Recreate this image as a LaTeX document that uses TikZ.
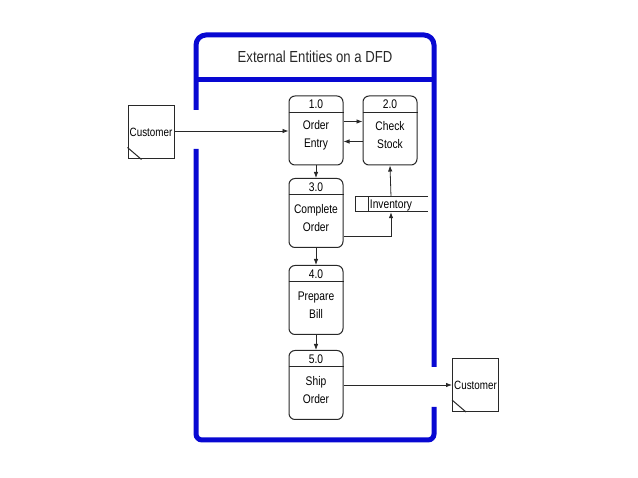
\documentclass[tikz,border=0pt]{standalone}
\usepackage{fontspec}
\setmainfont{Liberation Sans}[FakeStretch=0.82]
\usepackage{xcolor}
\usetikzlibrary{arrows.meta, calc}
\definecolor{frameblue}{RGB}{8,8,210}
\definecolor{inkgray}{RGB}{40,40,40}

\begin{document}
\begin{tikzpicture}[x=1pt, y=-1pt,
    process/.style={draw=inkgray, line width=1pt, rounded corners=6pt,
      minimum width=54pt, minimum height=69pt, inner sep=0pt},
    entity/.style={draw=inkgray, line width=1pt, minimum width=46pt,
      minimum height=53pt, inner sep=0pt, font=\fontsize{12}{12}\selectfont},
    flow/.style={draw=inkgray, line width=0.8pt, -{Latex[length=6pt,width=4.5pt]}},
    txt/.style={font=\fontsize{12.5}{18}\selectfont, align=center, inner sep=0pt}]
  \def\frameW{5pt}
  \useasboundingbox (0,0) rectangle (638,478);
  %The blue frame with its title band:
  \draw[frameblue, line width=\frameW, rounded corners=10pt]
    (196,110) -- (196,35) -- (434,35) -- (434,367);
  \draw[frameblue, line width=\frameW, rounded corners=6pt]
    (196,149) -- (196,440) -- (434,440) -- (434,407);
  \draw[frameblue, line width=\frameW] (196,80) -- (434,80);
  \node[txt, font=\fontsize{16}{16}\selectfont, text=inkgray] (title) at (315,57) {External Entities on a DFD};

  %The processes:
  \foreach \n/\x/\y/\num/\txt in {1/316/130.5/1.0/Order\\Entry, 2/390/130.5/2.0/Check\\Stock,
      3/316/213/3.0/Complete\\Order, 4/316/300/4.0/Prepare\\Bill, 5/316/385/5.0/Ship\\Order}{
    \node[process] (p\n) at (\x,\y) {};
    \draw[inkgray, line width=1pt] ([yshift=-17pt]p\n.north west) -- ([yshift=-17pt]p\n.north east);
    \node[txt] (num\n) at ([yshift=-9pt]p\n.north) {\num};
    \node[txt] (lbl\n) at ([yshift=-5pt]p\n.center) {\txt};
  }

  %The two customers:
  \node[entity] (cust1) at (151,132.5) {Customer};
  \node[entity] (cust2) at (475.5,385) {Customer};
  \foreach \c in {cust1, cust2}{
    \draw[inkgray, line width=1pt] ([yshift=12pt]\c.south west) -- ([xshift=14pt]\c.south west);
  }

  %The data store:
  \node[txt, minimum height=15pt, text depth=0pt] (inv) at (391,204.5) {Inventory};
  \draw[inkgray, line width=1pt] (428,197) -- (355,197) -- (355,212) -- (428,212);
  \draw[inkgray, line width=1pt] (368,197) -- (368,212);

  %The flows:
  \draw[flow] (cust1.east |- 0,131) -- (p1.west |- 0,131);
  \draw[flow] ([yshift=9pt]p1.east) -- ([yshift=9pt]p2.west);
  \draw[flow] ([yshift=-11pt]p2.west) -- ([yshift=-11pt]p1.east);
  \draw[flow] (p1) -- (p3);
  \draw[flow] ([yshift=-23pt]p3.east) -| (inv.south);
  \draw[flow] (inv.north) -- (p2.south);
  \draw[flow] (p3) -- (p4);
  \draw[flow] (p4) -- (p5);
  \draw[flow] (p5) -- (cust2);
\end{tikzpicture}
\end{document}
